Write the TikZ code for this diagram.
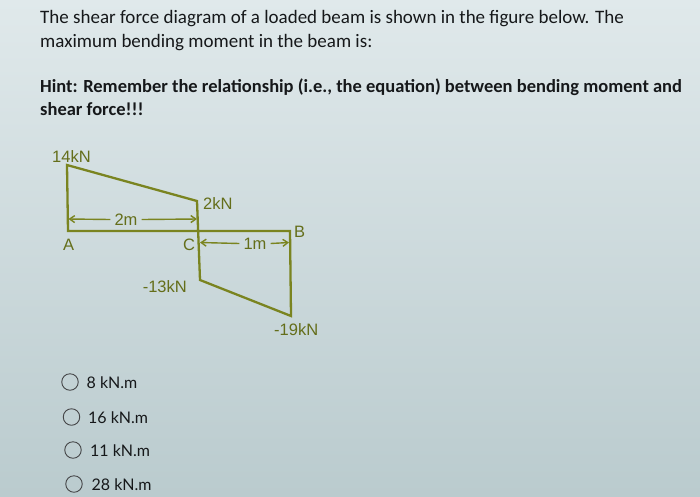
\documentclass[tikz,border=0pt]{standalone}
\usepackage{fontspec}
\setmainfont{Carlito}
\newfontfamily\optfont{Lato}
\newfontfamily\labfont{Liberation Sans}
\usetikzlibrary{arrows.meta}
\definecolor{bgtop}{RGB}{224,233,235}
\definecolor{bgbot}{RGB}{186,203,206}
\definecolor{diag}{RGB}{122,132,32}
\definecolor{diagtxt}{RGB}{100,110,26}
\definecolor{ink}{RGB}{22,24,26}
\tikzset{
  qtext/.style={anchor=base west, inner sep=0pt, text=ink, font=\fontsize{19}{23}\selectfont},
  hinttext/.style={qtext, font=\fontsize{18.5}{23}\selectfont\bfseries},
  opttext/.style={anchor=base west, inner sep=0pt, text=ink, font=\optfont\fontsize{16}{18}\selectfont},
  radio/.style={circle, draw=ink!80, line width=0.9pt, minimum size=16.5pt, inner sep=0pt},
  lab/.style={inner sep=0pt, text=diagtxt, font=\labfont\fontsize{16.5}{18}\selectfont},
  sfd/.style={draw=diag, line width=2.3pt, line join=miter},
  dim/.style={draw=diag, line width=1.4pt, -{Straight Barb[length=5pt,width=7pt]}},
}
\begin{document}
\begin{tikzpicture}[x=1pt, y=-1pt]
\useasboundingbox (0,0) rectangle (700,496);
\shade[top color=bgtop, bottom color=bgbot] (0,0) rectangle (700,496);

% question text
\node[qtext] (q1) at (40,23.5) {The shear force diagram of a loaded beam is shown in the figure below. The};
\node[qtext] (q2) at (40,47) {maximum bending moment in the beam is:};
\node[hinttext] (h1) at (40,92) {Hint: Remember the relationship (i.e., the equation) between bending moment and};
\node[hinttext] (h2) at (40,115.5) {shear force!!!};

% shear force diagram
\coordinate (Atop) at (67,165);
\coordinate (A) at (68,231);
\coordinate (Ctop) at (197,201);
\coordinate (Cbot) at (200,280);
\coordinate (B) at (290,231);
\coordinate (Bbot) at (291,316);
\draw[sfd] (A) -- (Atop) -- (Ctop) -- (Cbot) -- (Bbot) -- (B) -- cycle;

% dimension lines
\coordinate (d2l) at (68.5,219);
\coordinate (d2r) at (197,219);
\coordinate (d1l) at (200,242.5);
\coordinate (d1r) at (289,242.5);
\node[lab] (m2) at (126,219.5) {2m};
\node[lab] (m1) at (255,243.5) {1m};
\draw[dim] (m2.west) ++(-4,0) coordinate (m2w) (m2w) -- (d2l);
\draw[dim] (m2.east) ++(4,0) coordinate (m2e) (m2e) -- (d2r);
\draw[dim] (m1.west) ++(-4,0) coordinate (m1w) (m1w) -- (d1l);
\draw[dim] (m1.east) ++(4,0) coordinate (m1e) (m1e) -- (d1r);

% labels
\node[lab, anchor=base west] (l14) at (52,162) {14kN};
\node[lab, anchor=base west] (l2) at (203,209) {2kN};
\node[lab, anchor=base west] (lB) at (294,237) {B};
\node[lab, anchor=base west] (lC) at (183,250) {C};
\node[lab, anchor=base west] (lA) at (63,250) {A};
\node[lab, anchor=base east] (l13) at (187,292) {-13kN};
\node[lab, anchor=base west] (l19) at (274,335) {-19kN};

% options
\node[radio] (r1) at (70,382) {};
\node[opttext] (o1) at (86.5,388) {8 kN.m};
\node[radio] (r2) at (71.5,417) {};
\node[opttext] (o2) at (88,423) {16 kN.m};
\node[radio] (r3) at (73,450) {};
\node[opttext] (o3) at (90,456) {11 kN.m};
\node[radio] (r4) at (74,484) {};
\node[opttext] (o4) at (91.5,490) {28 kN.m};
\end{tikzpicture}
\end{document}
